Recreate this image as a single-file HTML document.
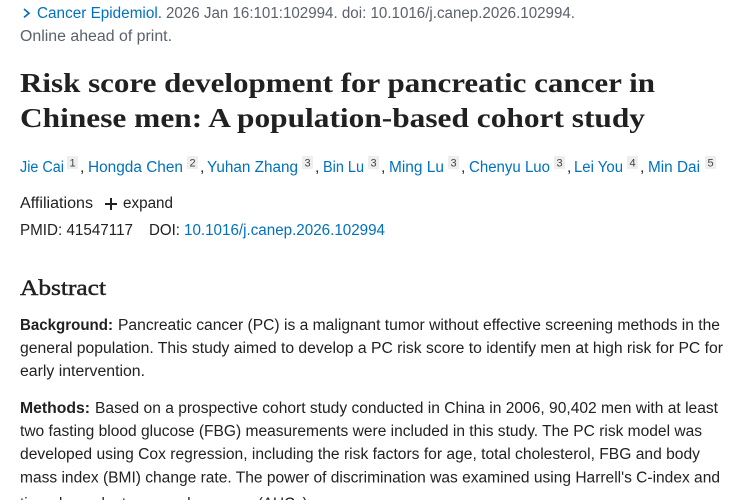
<!DOCTYPE html>
<html>
<head>
<meta charset="utf-8">
<style>
  html,body{margin:0;padding:0;background:#fff;}
  body{width:750px;height:500px;overflow:hidden;}
  svg{display:block;}
  .s{font-family:"Liberation Sans",sans-serif;font-size:15.5px;}
  .t{font-family:"Liberation Serif",serif;font-size:27px;font-weight:bold;fill:#212121;}
  .h{font-family:"Liberation Serif",serif;font-size:22px;fill:#212121;stroke:#212121;stroke-width:0.45px;}
  .dk{fill:#212121;}
  .gr{fill:#5b616b;}
  .bl{fill:#0071bc;}
  .b{font-weight:bold;}
  .sup{font-family:"Liberation Sans",sans-serif;font-size:11px;fill:#444;}
</style>
</head>
<body>
<svg width="750" height="500" viewBox="0 0 750 500" xmlns="http://www.w3.org/2000/svg">
  <rect width="750" height="500" fill="#fff"/>

  <!-- citation line -->
  <polyline points="24,9 29,13.2 24,17.4" fill="none" stroke="#0071bc" stroke-width="1.7"/>
  <text class="s bl" x="37" y="18" textLength="125" lengthAdjust="spacingAndGlyphs">Cancer Epidemiol.</text>
  <text class="s gr" x="166" y="18" textLength="409" lengthAdjust="spacingAndGlyphs">2026 Jan 16:101:102994. doi: 10.1016/j.canep.2026.102994.</text>
  <text class="s gr" x="20" y="41" textLength="152" lengthAdjust="spacingAndGlyphs">Online ahead of print.</text>

  <!-- title -->
  <text class="t" x="20" y="92" textLength="635" lengthAdjust="spacingAndGlyphs">Risk score development for pancreatic cancer in</text>
  <text class="t" x="20" y="127" textLength="625" lengthAdjust="spacingAndGlyphs">Chinese men: A population-based cohort study</text>

  <!-- authors -->
  <g>
    <text class="s bl" x="20" y="172" textLength="44" lengthAdjust="spacingAndGlyphs">Jie Cai</text>
    <rect x="67" y="156" width="11" height="13" fill="#eeeeee"/>
    <text class="sup" x="72.5" y="166.5" text-anchor="middle">1</text>
    <text class="s dk" x="80" y="172">,</text>

    <text class="s bl" x="88" y="172" textLength="95" lengthAdjust="spacingAndGlyphs">Hongda Chen</text>
    <rect x="187" y="156" width="11" height="13" fill="#eeeeee"/>
    <text class="sup" x="192.5" y="166.5" text-anchor="middle">2</text>
    <text class="s dk" x="200" y="172">,</text>

    <text class="s bl" x="207" y="172" textLength="91" lengthAdjust="spacingAndGlyphs">Yuhan Zhang</text>
    <rect x="302" y="156" width="11" height="13" fill="#eeeeee"/>
    <text class="sup" x="307.5" y="166.5" text-anchor="middle">3</text>
    <text class="s dk" x="315" y="172">,</text>

    <text class="s bl" x="323" y="172" textLength="41" lengthAdjust="spacingAndGlyphs">Bin Lu</text>
    <rect x="368" y="156" width="11" height="13" fill="#eeeeee"/>
    <text class="sup" x="373.5" y="166.5" text-anchor="middle">3</text>
    <text class="s dk" x="381" y="172">,</text>

    <text class="s bl" x="389" y="172" textLength="55" lengthAdjust="spacingAndGlyphs">Ming Lu</text>
    <rect x="448" y="156" width="11" height="13" fill="#eeeeee"/>
    <text class="sup" x="453.5" y="166.5" text-anchor="middle">3</text>
    <text class="s dk" x="461" y="172">,</text>

    <text class="s bl" x="469" y="172" textLength="81" lengthAdjust="spacingAndGlyphs">Chenyu Luo</text>
    <rect x="554" y="156" width="11" height="13" fill="#eeeeee"/>
    <text class="sup" x="559.5" y="166.5" text-anchor="middle">3</text>
    <text class="s dk" x="567" y="172">,</text>

    <text class="s bl" x="574" y="172" textLength="49" lengthAdjust="spacingAndGlyphs">Lei You</text>
    <rect x="627" y="156" width="11" height="13" fill="#eeeeee"/>
    <text class="sup" x="632.5" y="166.5" text-anchor="middle">4</text>
    <text class="s dk" x="640" y="172">,</text>

    <text class="s bl" x="648" y="172" textLength="52" lengthAdjust="spacingAndGlyphs">Min Dai</text>
    <rect x="705" y="156" width="11" height="13" fill="#eeeeee"/>
    <text class="sup" x="710.5" y="166.5" text-anchor="middle">5</text>
  </g>

  <!-- affiliations -->
  <text class="s dk" x="20" y="208" textLength="73" lengthAdjust="spacingAndGlyphs">Affiliations</text>
  <rect x="105" y="203" width="12" height="2" fill="#212121"/>
  <rect x="110" y="198" width="2" height="12" fill="#212121"/>
  <text class="s dk" x="123" y="208" textLength="50" lengthAdjust="spacingAndGlyphs">expand</text>

  <!-- PMID / DOI -->
  <text class="s dk" x="20" y="235" textLength="113" lengthAdjust="spacingAndGlyphs">PMID: 41547117</text>
  <text class="s dk" x="149" y="235" textLength="31" lengthAdjust="spacingAndGlyphs">DOI:</text>
  <text class="s bl" x="184" y="235" textLength="201" lengthAdjust="spacingAndGlyphs">10.1016/j.canep.2026.102994</text>

  <!-- Abstract -->
  <text class="h" x="20" y="295" textLength="86" lengthAdjust="spacingAndGlyphs">Abstract</text>

  <text class="s dk b" x="20" y="330" textLength="93" lengthAdjust="spacingAndGlyphs">Background:</text>
  <text class="s dk" x="118" y="330" textLength="602" lengthAdjust="spacingAndGlyphs">Pancreatic cancer (PC) is a malignant tumor without effective screening methods in the</text>
  <text class="s dk" x="20" y="353" textLength="703" lengthAdjust="spacingAndGlyphs">general population. This study aimed to develop a PC risk score to identify men at high risk for PC for</text>
  <text class="s dk" x="20" y="376" textLength="125" lengthAdjust="spacingAndGlyphs">early intervention.</text>

  <text class="s dk b" x="20" y="413" textLength="70" lengthAdjust="spacingAndGlyphs">Methods:</text>
  <text class="s dk" x="95" y="413" textLength="623" lengthAdjust="spacingAndGlyphs">Based on a prospective cohort study conducted in China in 2006, 90,402 men with at least</text>
  <text class="s dk" x="20" y="436" textLength="682" lengthAdjust="spacingAndGlyphs">two fasting blood glucose (FBG) measurements were included in this study. The PC risk model was</text>
  <text class="s dk" x="20" y="459" textLength="680" lengthAdjust="spacingAndGlyphs">developed using Cox regression, including the risk factors for age, total cholesterol, FBG and body</text>
  <text class="s dk" x="20" y="482.5" textLength="700" lengthAdjust="spacingAndGlyphs">mass index (BMI) change rate. The power of discrimination was examined using Harrell's C-index and</text>
  <text class="s dk" x="20" y="508.5" textLength="292" lengthAdjust="spacingAndGlyphs">time-dependent area under curves (AUCs).</text>
</svg>
</body>
</html>
